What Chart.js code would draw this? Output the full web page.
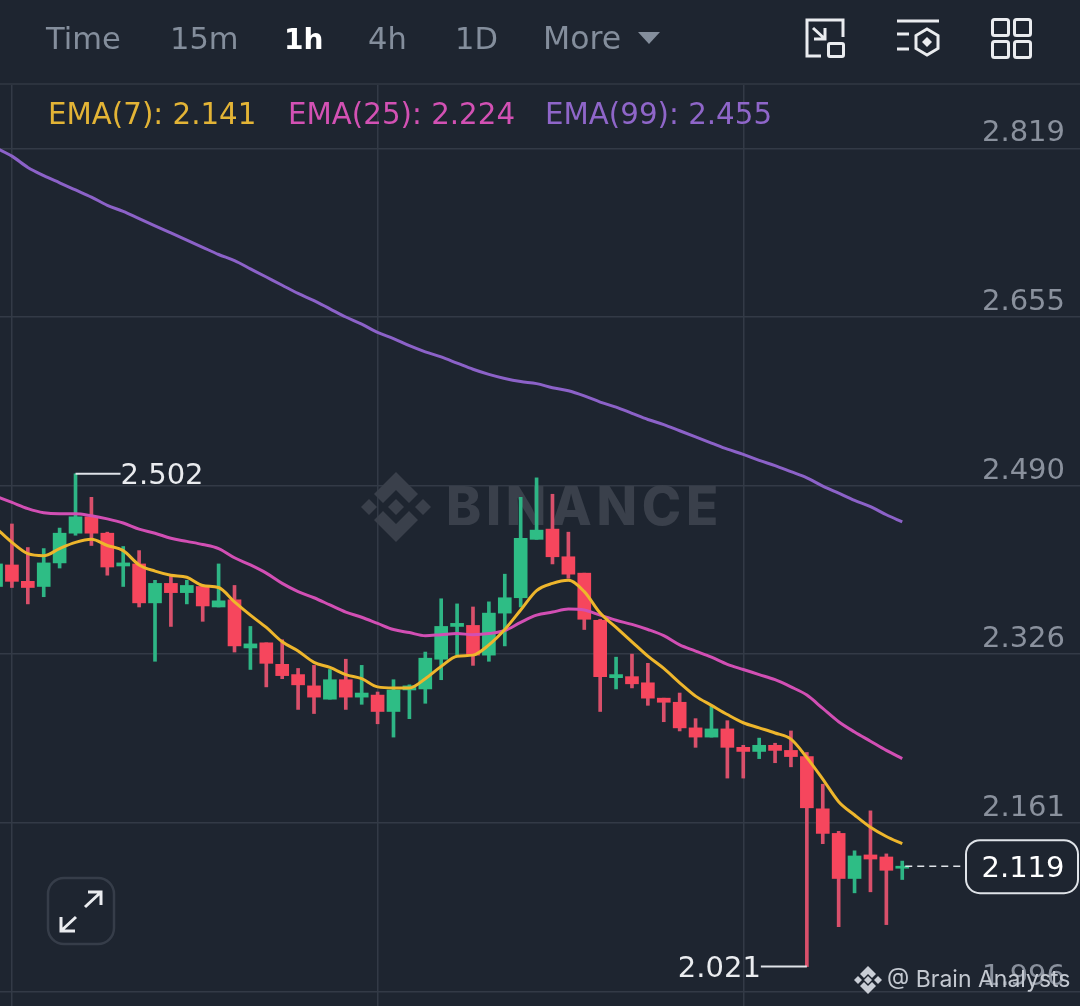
<!DOCTYPE html>
<html>
<head>
<meta charset="utf-8">
<script src="https://cdn.jsdelivr.net/npm/chart.js@4"></script>
<style>
html,body{margin:0;padding:0;background:#1e2530;}
#wrap{position:relative;width:1080px;height:1006px;overflow:hidden;background:#1e2530;font-family:"DejaVu Sans",sans-serif;}
canvas{position:absolute;left:0;top:0;}
.t{position:absolute;white-space:nowrap;line-height:1;}
.tab{top:24px;font-size:30.5px;color:#848e9c;}
.leg{top:100px;font-size:29.3px;}
svg{position:absolute;left:0;top:0;}
</style>
</head>
<body>
<div id="wrap">
<canvas id="c" width="1080" height="1006"></canvas>
<svg width="1080" height="1006" fill="none" stroke="#eaecef" stroke-width="3">
  <line x1="0" y1="84" x2="1080" y2="84" stroke="#2c333e" stroke-width="2"/>
  <path d="M638 32H660L649 44Z" fill="#848e9c" stroke="none"/>
  <path d="M821 56H807V20H843V37"/>
  <rect x="828.5" y="43.5" width="15" height="13" rx="1.5"/>
  <path d="M813 28L825 39M814 39H825V28" stroke-width="3"/>
  <path d="M897 21H939M897 34H909M897 49H909"/>
  <path d="M927 29L938 35.5V48.5L927 55L916 48.5V35.5Z"/>
  <path d="M927 37L932 42L927 47L922 42Z" fill="#eaecef" stroke="none"/>
  <rect x="992.5" y="19.5" width="16" height="16" rx="2"/>
  <rect x="1014.5" y="19.5" width="16" height="16" rx="2"/>
  <rect x="992.5" y="41.5" width="16" height="16" rx="2"/>
  <rect x="1014.5" y="41.5" width="16" height="16" rx="2"/>
  <rect x="48" y="878" width="66" height="66" rx="16" stroke="#363d49" stroke-width="2.5"/>
  <path d="M85 907L100 893M88 892H101V905M76 917L62 930M61 917V931H75"/>
  <g fill="#c9ced6" stroke="none">
    <path d="M868 966L876 974L872 978L868 974L864 978L860 974Z"/>
    <path d="M868 994L876 986L872 982L868 986L864 982L860 986Z"/>
    <path d="M868 976L872 980L868 984L864 980Z"/>
    <path d="M858 976L862 980L858 984L854 980Z"/>
    <path d="M878 976L882 980L878 984L874 980Z"/>
  </g>
</svg>
<span class="t tab" style="left:46px">Time</span>
<span class="t tab" style="left:170px">15m</span>
<span class="t tab" style="left:284px;color:#ffffff;font-weight:700;font-size:28px;top:26px">1h</span>
<span class="t tab" style="left:368px">4h</span>
<span class="t tab" style="left:455px">1D</span>
<span class="t tab" style="left:543px;font-size:31.5px;top:23px">More</span>
<span class="t leg" style="left:48px;color:#e3b436">EMA(7): 2.141</span>
<span class="t leg" style="left:288px;color:#d351b4">EMA(25): 2.224</span>
<span class="t leg" style="left:545px;color:#8f66c9">EMA(99): 2.455</span>
<span class="t" style="left:887px;top:968px;font-size:23px;font-family:Inter,sans-serif;color:#c4c9d1">@ Brain Analysts</span>
</div>
<script>
const indexes = [0,1,2,3,4,5,6,7,8,9,10,11,12,13,14,15,16,17,18,19,20,21,22,23,24,25,26,27,28,29,30,31,32,33,34,35,36,37,38,39,40,41,42,43,44,45,46,47,48,49,50,51,52,53,54,55,56,57];
const opens = [2.392,2.413,2.397,2.392,2.415,2.444,2.460,2.444,2.412,2.414,2.376,2.395,2.386,2.392,2.372,2.379,2.332,2.337,2.316,2.306,2.295,2.282,2.301,2.284,2.286,2.270,2.291,2.292,2.321,2.353,2.354,2.325,2.366,2.381,2.438,2.448,2.421,2.405,2.359,2.303,2.304,2.298,2.283,2.279,2.254,2.245,2.253,2.235,2.231,2.237,2.232,2.226,2.175,2.151,2.107,2.130,2.128,2.117];
const closes = [2.414,2.397,2.391,2.415,2.444,2.460,2.444,2.411,2.415,2.376,2.395,2.386,2.393,2.373,2.378,2.334,2.336,2.317,2.305,2.296,2.284,2.301,2.284,2.288,2.270,2.291,2.295,2.322,2.353,2.356,2.325,2.366,2.381,2.439,2.447,2.421,2.404,2.360,2.304,2.306,2.297,2.283,2.279,2.254,2.245,2.253,2.235,2.231,2.237,2.232,2.226,2.176,2.151,2.107,2.129,2.126,2.115,2.119];
const highs = [2.423,2.453,2.430,2.429,2.449,2.502,2.479,2.445,2.431,2.427,2.398,2.403,2.398,2.393,2.414,2.393,2.353,2.337,2.340,2.312,2.315,2.311,2.321,2.315,2.289,2.301,2.296,2.328,2.380,2.375,2.372,2.377,2.404,2.479,2.498,2.482,2.445,2.405,2.360,2.323,2.326,2.317,2.283,2.288,2.263,2.275,2.261,2.237,2.244,2.239,2.251,2.230,2.199,2.153,2.134,2.173,2.131,2.124];
const lows = [2.387,2.391,2.375,2.382,2.410,2.442,2.432,2.403,2.392,2.372,2.319,2.353,2.375,2.358,2.372,2.328,2.311,2.294,2.302,2.272,2.268,2.282,2.272,2.277,2.258,2.245,2.263,2.278,2.301,2.325,2.315,2.319,2.334,2.372,2.438,2.414,2.400,2.350,2.270,2.292,2.293,2.276,2.260,2.251,2.235,2.245,2.205,2.205,2.224,2.220,2.216,2.021,2.141,2.060,2.093,2.094,2.062,2.106];
const ema7 = [2.449,2.435,2.424,2.422,2.429,2.435,2.438,2.432,2.427,2.413,2.407,2.403,2.401,2.393,2.391,2.377,2.364,2.352,2.338,2.329,2.318,2.313,2.306,2.302,2.294,2.293,2.293,2.302,2.314,2.324,2.325,2.335,2.350,2.369,2.388,2.395,2.398,2.387,2.366,2.352,2.338,2.324,2.312,2.298,2.285,2.276,2.267,2.259,2.254,2.249,2.243,2.225,2.204,2.182,2.169,2.157,2.148,2.141];
const ema25 = [2.480,2.474,2.468,2.464,2.463,2.463,2.461,2.458,2.454,2.448,2.444,2.439,2.436,2.433,2.429,2.420,2.413,2.405,2.395,2.387,2.381,2.374,2.367,2.362,2.356,2.350,2.347,2.344,2.345,2.346,2.345,2.346,2.349,2.357,2.364,2.367,2.370,2.369,2.364,2.359,2.355,2.350,2.344,2.335,2.329,2.323,2.316,2.311,2.306,2.301,2.294,2.286,2.273,2.260,2.250,2.241,2.232,2.224];
const ema99 = [2.820,2.812,2.801,2.793,2.786,2.779,2.772,2.764,2.758,2.751,2.744,2.737,2.730,2.723,2.716,2.710,2.702,2.694,2.686,2.678,2.671,2.663,2.655,2.648,2.640,2.634,2.627,2.621,2.616,2.610,2.604,2.599,2.595,2.592,2.590,2.586,2.583,2.578,2.572,2.567,2.561,2.555,2.550,2.544,2.538,2.532,2.526,2.521,2.515,2.510,2.504,2.498,2.490,2.483,2.476,2.470,2.462,2.455];
const priceTicks = [2.819,2.655,2.490,2.326,2.161,1.996];
const timeGridIndexes = [1,24,47];
const highLabel = "2.502", lowLabel = "2.021", lastLabel = "2.119";
const highValue = 2.502, highIndex = 5, lowValue = 2.021, lowIndex = 51, lastValue = 2.119, lastIndex = 57;

const RED = "#f6465d", GREEN = "#2ebd85", RED_W = "#d9506b", GREEN_W = "#2eb585";
const isUp = indexes.map(i => closes[i] >= opens[i]);
const LABEL_FONT = "29px 'DejaVu Sans', sans-serif";

const overlay = {
  id: "overlay",
  beforeDatasetsDraw(chart) {
    const c = chart.ctx;
    c.save();
    c.fillStyle = "#3a404b";
    c.font = "800 53px Inter, sans-serif";
    c.letterSpacing = "4.7px";
    c.textAlign = "left"; c.textBaseline = "middle";
    c.fillText("BINANCE", 446, 509);
    c.letterSpacing = "0px";
    const d = (x, y, r) => { c.beginPath(); c.moveTo(x, y-r); c.lineTo(x+r, y); c.lineTo(x, y+r); c.lineTo(x-r, y); c.closePath(); c.fill(); };
    d(396, 507, 8); d(369, 507, 8); d(423, 507, 8);
    c.beginPath(); c.moveTo(396,472); c.lineTo(418,494); c.lineTo(409,503); c.lineTo(396,490); c.lineTo(383,503); c.lineTo(374,494); c.closePath(); c.fill();
    c.beginPath(); c.moveTo(396,542); c.lineTo(418,520); c.lineTo(409,511); c.lineTo(396,524); c.lineTo(383,511); c.lineTo(374,520); c.closePath(); c.fill();
    c.restore();
  },
  afterDraw(chart) {
    const c = chart.ctx, xs = chart.scales.x, ys = chart.scales.y;
    c.save();
    c.font = LABEL_FONT;
    c.textBaseline = "middle";
    c.strokeStyle = "#dfe3e8"; c.fillStyle = "#eaecef"; c.lineWidth = 2;
    const hx = xs.getPixelForValue(highIndex), hy = ys.getPixelForValue(highValue);
    c.beginPath(); c.moveTo(hx, hy); c.lineTo(hx + 45, hy); c.stroke();
    c.textAlign = "left"; c.fillText(highLabel, hx + 45, hy + 3);
    const lx = xs.getPixelForValue(lowIndex), ly = ys.getPixelForValue(lowValue);
    c.beginPath(); c.moveTo(lx, ly); c.lineTo(lx - 46, ly); c.stroke();
    c.textAlign = "right"; c.fillText(lowLabel, lx - 46, ly + 3);
    const px = xs.getPixelForValue(lastIndex), py = ys.getPixelForValue(lastValue);
    c.setLineDash([7, 5]); c.lineWidth = 1.5;
    c.beginPath(); c.moveTo(px + 3, py); c.lineTo(965, py); c.stroke();
    c.setLineDash([]); c.lineWidth = 2;
    c.fillStyle = "#1e2530";
    c.beginPath(); c.roundRect(966, py - 26, 112, 53, 14); c.fill(); c.stroke();
    c.fillStyle = "#ffffff"; c.textAlign = "center";
    c.fillText(lastLabel, 1023, py + 3);
    c.restore();
  }
};

const lineDs = (label, data, color) => ({
  type: "line", label, order: 1, borderColor: color, borderWidth: 3, pointRadius: 0,
  cubicInterpolationMode: "monotone",
  data: indexes.map(i => ({ x: i, y: data[i] }))
});

new Chart(document.getElementById("c"), {
  data: {
    datasets: [
      lineDs("EMA(7)", ema7, "#eeb62c"),
      lineDs("EMA(25)", ema25, "#d24fb4"),
      lineDs("EMA(99)", ema99, "#8c62c8"),
      { type: "bar", label: "Body", order: 2, barThickness: 13, borderSkipped: false, grouped: false,
        backgroundColor: indexes.map(i => isUp[i] ? GREEN : RED),
        data: indexes.map(i => ({ x: i, y: [opens[i], closes[i]] })) },
      { type: "bar", label: "Wick", order: 3, barThickness: 3, borderSkipped: false, grouped: false,
        backgroundColor: indexes.map(i => isUp[i] ? GREEN_W : RED_W),
        data: indexes.map(i => ({ x: i, y: [lows[i], highs[i]] })) }
    ]
  },
  options: {
    responsive: false,
    maintainAspectRatio: false,
    animation: false,
    layout: { padding: { top: 84, left: 0, right: 0, bottom: 0 } },
    plugins: { legend: { display: false }, tooltip: { enabled: false } },
    scales: {
      x: {
        type: "linear", min: 0.25, max: 68.18, offset: false,
        afterBuildTicks(a) { a.ticks = timeGridIndexes.map(v => ({ value: v })); },
        afterFit(a) { a.height = 0; a.paddingLeft = 0; a.paddingRight = 0; a.paddingTop = 0; a.paddingBottom = 0; },
        ticks: { display: false },
        border: { display: false },
        grid: { color: "#333a46", lineWidth: 1.5, drawTicks: false, offset: false }
      },
      y: {
        type: "linear", position: "right", min: 1.98256, max: 2.8824,
        afterBuildTicks(a) { a.ticks = priceTicks.map(v => ({ value: v })); },
        afterFit(a) { a.width = 0; a.paddingLeft = 0; a.paddingRight = 0; a.paddingTop = 0; a.paddingBottom = 0; },
        border: { display: false },
        grid: { color: "#333a46", lineWidth: 1.5, drawTicks: false },
        ticks: {
          mirror: true, padding: -15, labelOffset: -15, color: "#8a919d",
          font: { family: "'DejaVu Sans', sans-serif", size: 29 },
          callback: v => v.toFixed(3)
        }
      }
    }
  },
  plugins: [overlay]
});
</script>
</body>
</html>
